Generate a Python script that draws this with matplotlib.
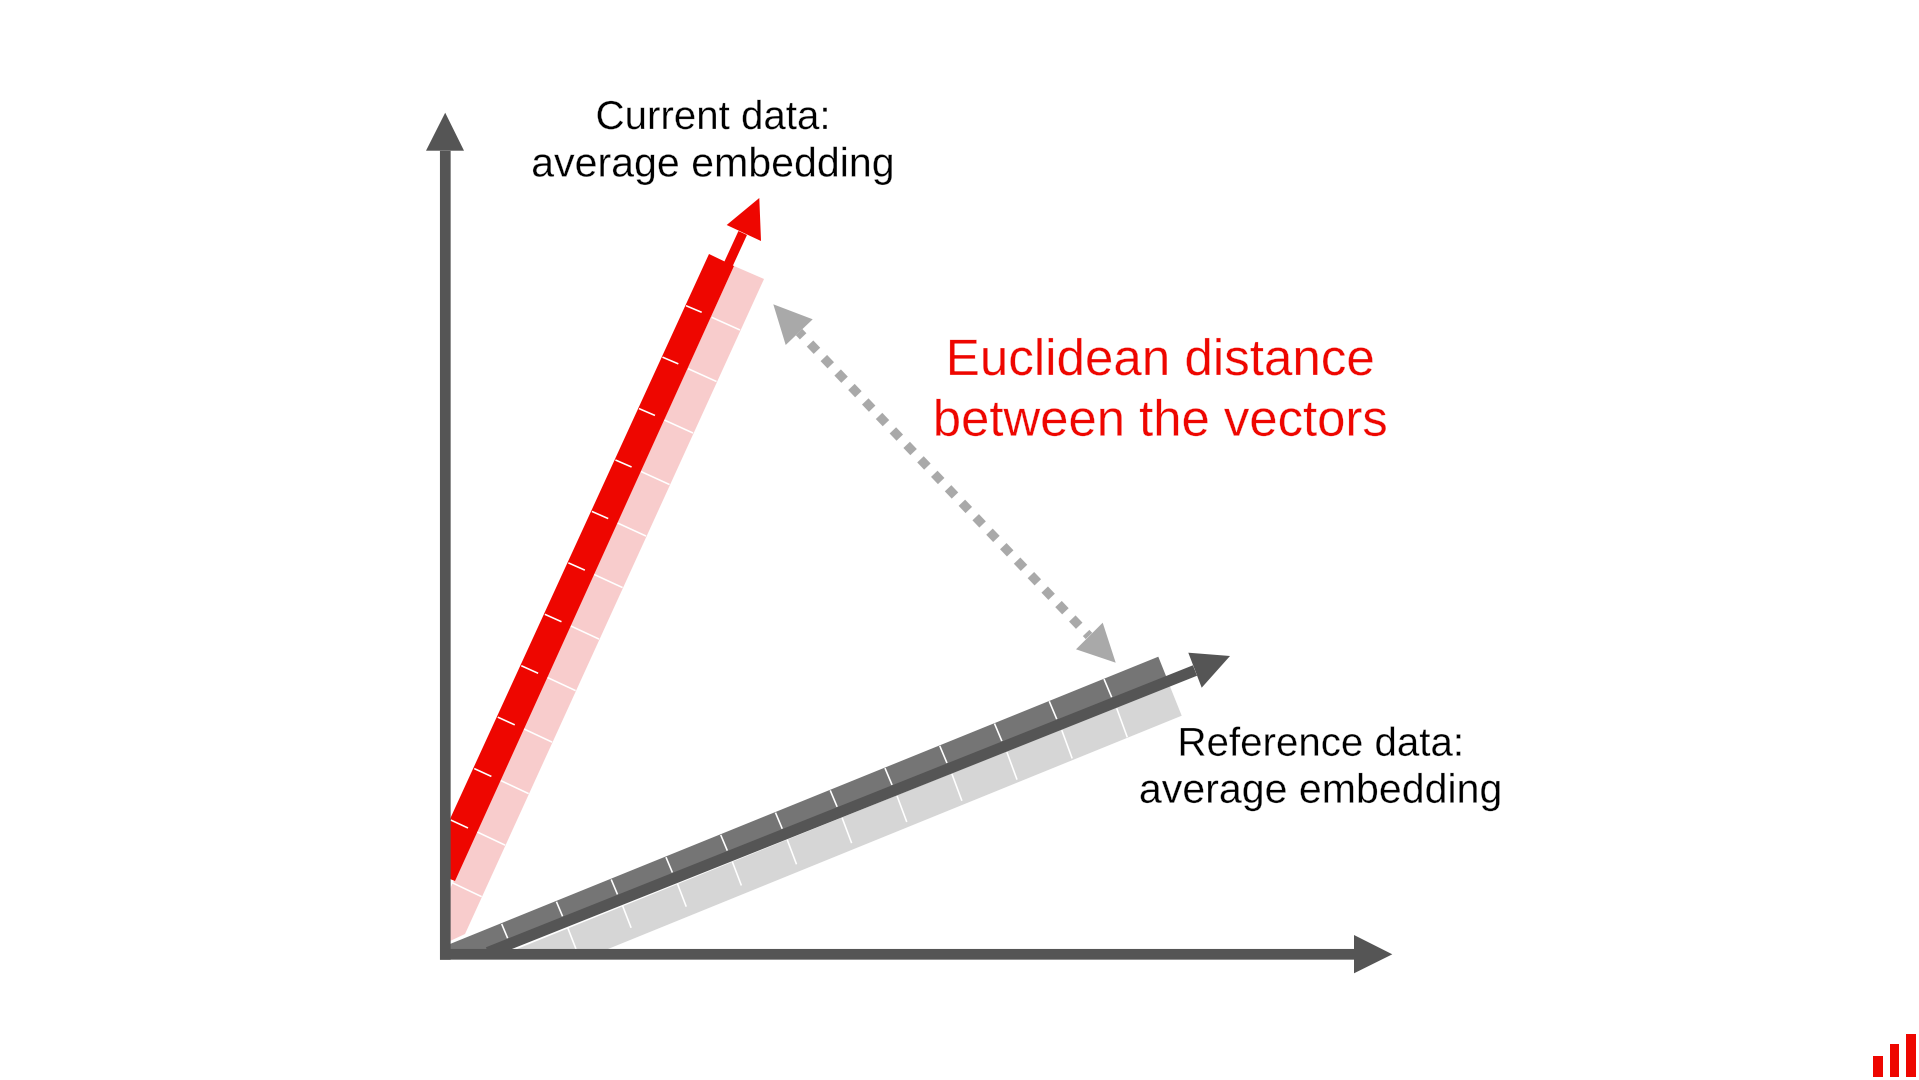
import matplotlib
matplotlib.use("Agg")
import matplotlib.pyplot as plt
import matplotlib.patheffects as pe
import numpy as np
from matplotlib.patches import Polygon

W, H = 1919, 1080
PX = 72 / 100

# ---- diagram values (x, y in picture pixels) ----
origin = [445.3, 954.3]
x_axis_end = [1354, 954.3]
y_axis_end = [445.3, 150.7]
x_axis_head = [[1354, 935], [1392.3, 954.3], [1354, 973.3]]
y_axis_head = [[426, 150.7], [445.2, 112.7], [464, 150.7]]

current_shaft = [[742.7, 233], [728, 265]]
current_head = [[726.7, 225], [759.3, 198], [761, 241]]
current_band = [[709, 254], [734, 266], [455, 881], [450, 879], [450, 819]]
current_pale = [[734, 266], [764, 279], [465, 934], [450, 941], [450, 889]]
current_tick_first = [[686, 305.7], [701.7, 312.3]]
current_tick_last = [[450.7, 820], [468, 828]]
current_tick_count = 11
current_pale_tick_first = [[711.7, 317.3], [740, 330]]
current_pale_tick_last = [[450.7, 882], [481.7, 896.7]]
current_pale_tick_count = 12

reference_shaft = [[1195, 670.5], [488, 952.5]]
reference_head = [[1188.3, 652.7], [1230, 656], [1201.7, 687.7]]
reference_band = [[450, 944], [1158.3, 656.7], [1168, 681], [501, 949], [450, 949]]
reference_pale = [[1169.4, 685], [1181.7, 715.7], [608, 949], [517, 949]]
reference_tick_first = [[1104, 679], [1111.7, 697.3]]
reference_tick_last = [[501.7, 924], [507.7, 938.3]]
reference_tick_count = 12
reference_pale_tick_first = [[1116.7, 708.3], [1127.3, 737.3]]
reference_pale_tick_last = [[567.3, 926.7], [576, 949]]
reference_pale_tick_count = 11

distance_line = [[799, 332], [1089, 636]]
distance_head_a = [[812.7, 319.3], [773.3, 304.3], [785.7, 345]]
distance_head_b = [[1076, 649.3], [1115.7, 662.7], [1102.7, 622.7]]

logo_left = [1873.3, 1890, 1906]
logo_right = [1883, 1899.3, 1915.7]
logo_top = [1055.7, 1044.3, 1034]
logo_base = 1076.7

current_label = ["Current data:", "average embedding"]
reference_label = ["Reference data:", "average embedding"]
distance_label = ["Euclidean distance", "between the vectors"]

# ---- style ----
AXIS = "#555555"
RED = "#EE0600"
PINK = "#F8CCCC"
DARK = "#757575"
LIGHT = "#D6D6D6"
DOT = "#A9A9A9"

fig = plt.figure(figsize=(W / 100, H / 100), dpi=100, facecolor="white")
ax = fig.add_axes([0, 0, 1, 1])
ax.set_xlim(0, W)
ax.set_ylim(H, 0)
ax.axis("off")


def poly(pts, color, z):
    ax.add_patch(Polygon(pts, closed=True, facecolor=color, edgecolor="none", zorder=z))


def line(pts, color, width, z, **kw):
    xs, ys = zip(*pts)
    ax.plot(xs, ys, color=color, lw=width * PX, solid_capstyle="butt", zorder=z, **kw)


def ticks(first, last, n, width, z):
    a = np.array(first, float)
    b = np.array(last, float)
    for k in np.linspace(0, 1, n):
        seg = a + (b - a) * k
        line(seg.tolist(), "white", width, z)


poly(current_pale, PINK, 1)
ticks(current_pale_tick_first, current_pale_tick_last, current_pale_tick_count, 1.6, 1.5)
poly(current_band, RED, 2)
ticks(current_tick_first, current_tick_last, current_tick_count, 1.6, 2.5)
line(current_shaft, RED, 9.4, 2.2)
poly(current_head, RED, 3)

poly(reference_pale, LIGHT, 1)
ticks(reference_pale_tick_first, reference_pale_tick_last, reference_pale_tick_count, 1.6, 1.5)
poly(reference_band, DARK, 2)
ticks(reference_tick_first, reference_tick_last, reference_tick_count, 1.6, 2.5)
line(reference_shaft, AXIS, 11.2, 3)
poly(reference_head, AXIS, 3)

xs, ys = zip(*distance_line)
ax.plot(xs, ys, color=DOT, lw=9 * PX, linestyle=(4 / 9, (1.111, 1.111)),
        dash_capstyle="butt", zorder=3)
poly(distance_head_a, DOT, 3)
poly(distance_head_b, DOT, 3)

line([[origin[0] - 5.3, origin[1]], x_axis_end], AXIS, 10.7, 5, snap=False)
line([[origin[0], origin[1] + 5.3], y_axis_end], AXIS, 10.7, 5, snap=False)
poly(x_axis_head, AXIS, 5)
poly(y_axis_head, AXIS, 5)

ax.bar(logo_left, [t - logo_base for t in logo_top], bottom=logo_base,
       width=[r - l for l, r in zip(logo_left, logo_right)], align="edge",
       color=RED, linewidth=0, zorder=2)

thin = [pe.Stroke(linewidth=0.22, foreground="white")]
font = dict(family=["Liberation Sans", "DejaVu Sans"], ha="center", va="baseline",
            path_effects=thin)
for txt, y, size in zip(current_label, [129, 176.5], [29.0, 29.6]):
    ax.text(713, y, txt, fontsize=size, color="black", **font)
for txt, y, size in zip(reference_label, [755.7, 802.7], [29.0, 29.6]):
    ax.text(1320.7, y, txt, fontsize=size, color="black", **font)
for txt, y, size in zip(distance_label, [375, 435.7], [36.8, 36.6]):
    ax.text(1160.3, y, txt, fontsize=size, color=RED, **font)

fig.savefig("out.png", dpi=100, facecolor="white")
